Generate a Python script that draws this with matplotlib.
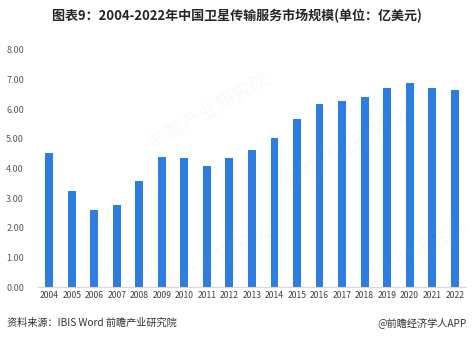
import matplotlib.pyplot as plt

plt.rcParams['font.family'] = ['Noto Sans CJK SC', 'DejaVu Sans']

# Data (unit: 亿美元)
years = ['2004', '2005', '2006', '2007', '2008', '2009', '2010', '2011', '2012', '2013',
         '2014', '2015', '2016', '2017', '2018', '2019', '2020', '2021', '2022']
values = [4.54, 3.26, 2.61, 2.76, 3.59, 4.39, 4.35, 4.09, 4.36, 4.62,
          5.02, 5.67, 6.17, 6.28, 6.43, 6.73, 6.88, 6.73, 6.65]
yticks = [0, 1, 2, 3, 4, 5, 6, 7, 8]

fig = plt.figure(figsize=(4.74, 3.4), dpi=100)
ax = fig.add_axes([0.080, 0.155, 0.903, 0.698])

x = range(len(years))
ax.bar(x, values, width=0.35, color='#2e7de1', zorder=2)

ax.set_xlim(-0.5, len(years) - 0.5)
ax.set_ylim(0, 8)
ax.set_yticks(yticks)
ax.set_yticklabels([f'{v:.2f}' for v in yticks], fontsize=6.5, color='#595959')
ax.set_xticks(list(x))
ax.set_xticklabels(years, fontsize=6.2, color='#404040')
ax.tick_params(axis='x', length=0, pad=3)
ax.tick_params(axis='y', length=0, pad=10)

for s in ['top', 'right', 'left']:
    ax.spines[s].set_visible(False)
ax.spines['bottom'].set_color('#d9d9d9')

# faint watermarks
for wx, wy in [(0.40, 0.74), (0.40, 0.10), (0.72, 0.58), (0.86, 0.12)]:
    ax.text(wx, wy, '前瞻产业研究院', transform=ax.transAxes, fontsize=14,
            color='#cccccc', alpha=0.12, rotation=30, ha='center', va='center', zorder=1)

fig.text(0.5, 0.952, '图表9：2004-2022年中国卫星传输服务市场规模(单位：亿美元)',
         ha='center', va='center', fontsize=9.4, fontweight='bold', color='#262626')
fig.text(0.015, 0.05, '资料来源：IBIS Word 前瞻产业研究院', ha='left', va='center',
         fontsize=7.3, color='#333333')
fig.text(0.985, 0.05, '@前瞻经济学人APP', ha='right', va='center',
         fontsize=7.3, color='#333333')

fig.savefig('out.png', dpi=100)
